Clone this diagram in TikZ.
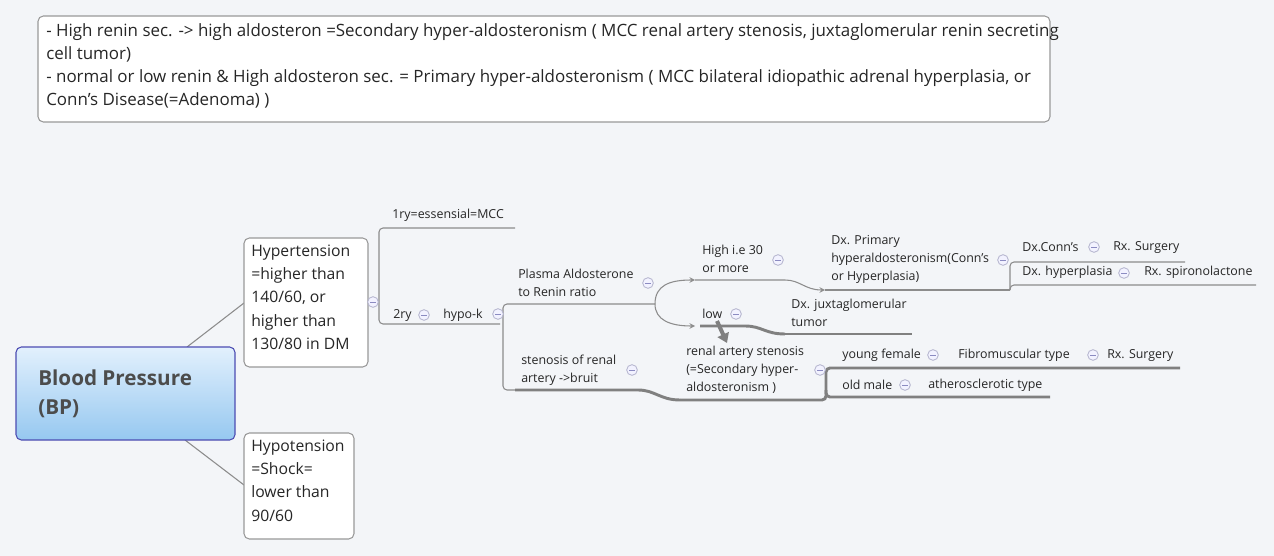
\documentclass[tikz,border=0pt]{standalone}
\usepackage{fontspec}
\usetikzlibrary{arrows.meta}
\setmainfont{Open Sans}
\newcommand{\apo}{{\char"0027}}
\begin{document}
\begin{tikzpicture}[x=0.75pt,y=-0.75pt,
 t/.style={anchor=west,inner sep=0pt,font=\fontsize{9.3}{13.5}\selectfont,text=black!85,align=left},
 bt/.style={anchor=north west,inner sep=0pt,font=\fontsize{11.8}{17.3}\selectfont,text=black!85,align=left},
 ln/.style={draw=gray!90,line width=0.8pt},
 tk/.style={draw=gray,line width=2.2pt},
 box/.style={draw=gray!80,fill=white,rounded corners=4pt,line width=0.8pt},
 cc/.style={circle,draw=blue!20!gray!50,fill=blue!5,minimum size=8pt,inner sep=0pt,line width=0.6pt,
   path picture={\draw[blue!30!gray!70,line width=0.6pt]([xshift=-2pt]path picture bounding box.center)--([xshift=2pt]path picture bounding box.center);}}]
\fill[fill={rgb,255:red,243;green,245;blue,248}] (0,0) rectangle (1274,556);
\useasboundingbox (0,0) rectangle (1274,556);
% top box
\draw[box] (38,16) rectangle (1050,122);
\node[anchor=north west,inner sep=0pt,font=\fontsize{12.7}{17.3}\selectfont,text=black!85,align=left] (note) at (46,23) {- High renin sec. -> high aldosteron =Secondary hyper-aldosteronism ( MCC renal artery stenosis, juxtaglomerular renin secreting\\cell tumor)\\- normal or low renin \& High aldosteron sec. = Primary hyper-aldosteronism ( MCC bilateral idiopathic adrenal hyperplasia, or\\Conn\apo s Disease(=Adenoma) )};
% connectors from root
\coordinate (r1) at (187,347); \coordinate (h1) at (244,303);
\coordinate (r2) at (185,440); \coordinate (h2) at (244,485);
\draw[ln] (r1)--(h1); \draw[ln] (r2)--(h2);
% root
\draw[draw=blue!40!gray,top color={rgb,255:red,226;green,240;blue,253},bottom color={rgb,255:red,150;green,200;blue,240},rounded corners=4pt,line width=0.8pt] (16,347) rectangle (235,440);
\node[anchor=west,inner sep=0pt,align=left,font=\fontsize{15.5}{22}\bfseries\selectfont,text=black!70] (bp) at (38,394) {Blood Pressure\\(BP)};
\draw[box] (244,238) rectangle (368,367);
\node[bt] (hyper) at (251,245) {Hypertension\\=higher than\\140/60, or\\higher than\\130/80 in DM};
\draw[box] (244,433) rectangle (354,539);
\node[bt] (hypo) at (251,440) {Hypotension\\=Shock=\\lower than\\90/60};
% 1ry/2ry bracket
\draw[ln,rounded corners=3pt] (515,228)--(379,228)--(379,324)--(500,324);
\node[t] (ry1) at (392,215) {1ry=essensial=MCC};
\node[t] (ry2) at (393,315) {2ry};
\node[t] (hk) at (443,315) {hypo-k};
% hypo-k bracket
\draw[ln,rounded corners=3pt] (655,304)--(503,304)--(503,390)--(515,390);
\draw[tk] (515,390)--(638,390) .. controls (655,390) and (660,400) .. (680,400);
\node[t] (pa) at (518,283) {Plasma Aldosterone\\to Renin ratio};
\node[t] (st) at (521,370) {stenosis of renal\\artery ->bruit};
% plasma branches
\draw[ln,-stealth] (655,304) .. controls (655,285) and (670,280) .. (695,280);
\draw[ln,-stealth] (655,304) .. controls (655,320) and (670,326) .. (695,326);
\node[t] (hi) at (702,259) {High i.e 30\\or more};
\draw[ln,-stealth] (695,280)--(785,280) .. controls (800,280) and (805,290) .. (825,290);
\draw[ln] (825,290)--(1010,290);
\node[t] (pri) at (831,259) {Dx. Primary\\hyperaldosteronism(Conn\apo s\\or Hyperplasia)};
\draw[ln,rounded corners=3pt] (1010,290)--(1010,262)--(1185,262);
\draw[ln,rounded corners=3pt] (1010,290)--(1010,285)--(1256,285);
\node[t] (dc) at (1022,247) {Dx.Conn\apo s};
\node[t] (rs1) at (1113,247) {Rx. Surgery};
\node[t] (dh) at (1022,272) {Dx. hyperplasia};
\node[t] (rsp) at (1144,272) {Rx. spironolactone};
% low
\node[t] (lo) at (702,314) {low};
\draw[tk] (700,326)--(745,326) .. controls (762,326) and (765,334) .. (785,334);
\draw[tk] (785,334)--(912,334);
\node[t] (jx) at (791,313) {Dx. juxtaglomerular\\tumor};
\draw[draw=gray,line width=3pt,-{Triangle[length=7pt,width=9pt]}] (717,321)--(727,343);
% renal artery stenosis
\node[t] (ras) at (686,370) {renal artery stenosis\\(=Secondary hyper-\\aldosteronism )};
\draw[tk,rounded corners=3pt] (680,400)--(826,400)--(826,368)--(1180,368);
\draw[tk,rounded corners=3pt] (826,390)--(826,397)--(1050,397);
\node[t] (yf) at (842,355) {young female};
\node[t] (fm) at (958,355) {Fibromuscular type};
\node[t] (rs2) at (1107,355) {Rx. Surgery};
\node[t] (om) at (842,385) {old male};
\node[t] (at) at (928,385) {atherosclerotic type};
% collapse markers
\foreach \p in {(373,302),(424,315),(498,314),(648,283),(632,370),(778,260),(736,314),(1003,260),(1094,247),(1124,273),(820,370),(933,355),(1093,355),(905,385)}
  \node[cc] at \p {};
\end{tikzpicture}
\end{document}
